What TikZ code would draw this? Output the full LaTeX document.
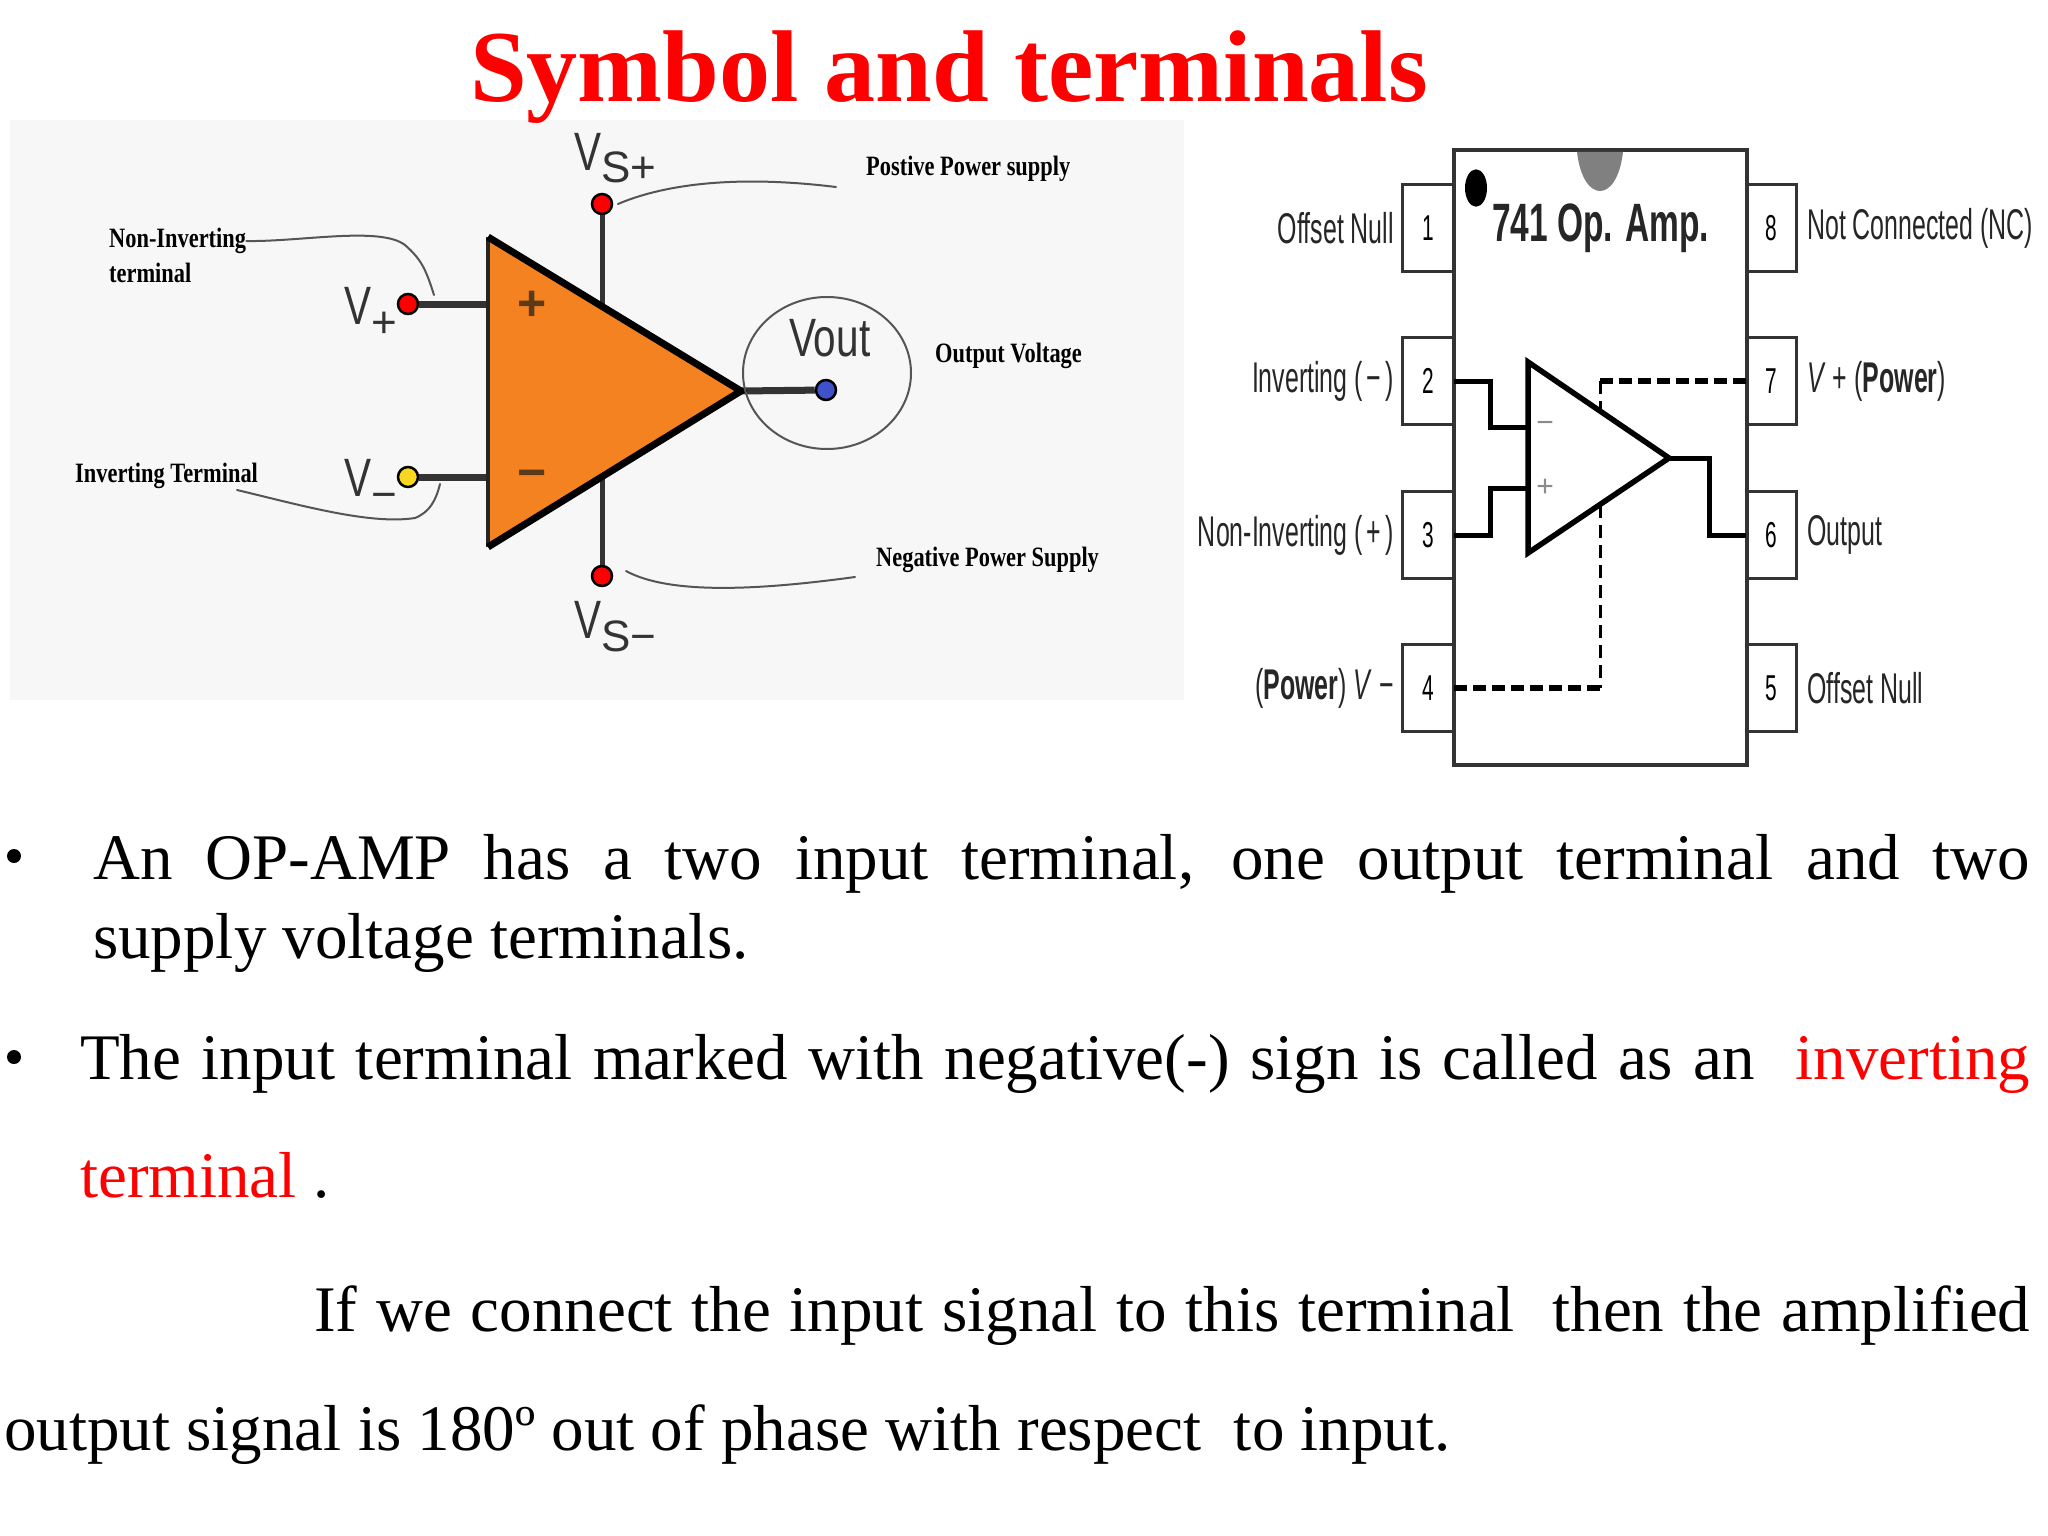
\documentclass[tikz,border=0pt]{standalone}
\usepackage{fontspec}
\usepackage{xcolor}
\usetikzlibrary{calc}
\setmainfont{Liberation Serif}
\setsansfont{Liberation Sans}
\newfontfamily\slimfont[FakeStretch=0.75]{Liberation Sans}
\newfontfamily\pinfont[FakeStretch=0.58]{Liberation Sans}
\newfontfamily\namefont[FakeStretch=0.62]{Liberation Sans}
\newfontfamily\tinyfont[FakeStretch=0.8]{Liberation Serif}
\definecolor{panel}{HTML}{F7F7F8}
\definecolor{amp}{HTML}{F58220}
\definecolor{wirec}{HTML}{333333}
\definecolor{signc}{HTML}{5A3A18}
\definecolor{notchc}{HTML}{808080}
\definecolor{leadc}{HTML}{555555}
\definecolor{bluedot}{HTML}{3F51C8}
\definecolor{yellowdot}{HTML}{F7D81E}
\newcommand{\vsub}[1]{\raisebox{-13pt}{\sffamily\fontsize{44}{44}\selectfont #1}}
\tikzset{
  titletext/.style={anchor=base west, inner sep=0pt, text=red, font=\fontsize{102}{110}\selectfont\bfseries},
  body/.style={anchor=base west, inner sep=0pt, font=\fontsize{65}{78}\selectfont},
  bullet/.style={circle, fill=black, inner sep=0pt, minimum size=14pt},
  dot/.style={circle, draw=black, line width=2.5pt, inner sep=0pt, minimum size=20pt},
  lead/.style={draw=leadc, line width=2pt, line cap=round},
  stub/.style={draw=wirec, line width=7pt},
  rail/.style={draw=wirec, line width=5pt},
  vlab/.style={anchor=base west, inner sep=0pt, text=wirec, font=\slimfont\fontsize{54}{54}\selectfont},
  sign/.style={inner sep=0pt, text=signc, font=\sffamily\bfseries\fontsize{50}{50}\selectfont},
  note/.style={inner sep=0pt, text=black, font=\tinyfont\fontsize{28}{30}\selectfont\bfseries},
  pinbox/.style={draw=wirec, line width=3pt, minimum width=51pt, minimum height=87pt, inner sep=0pt, outer sep=0pt, fill=white, font=\pinfont\fontsize{36}{36}\selectfont},
  pinlab/.style={inner sep=0pt, text=black!85, font=\pinfont\fontsize{43}{43}\selectfont},
  wire/.style={draw=black, line width=5pt, line join=miter},
  dashh/.style={draw=black, line width=5.5pt, dash pattern=on 13pt off 6pt},
  dashv/.style={draw=black, line width=3pt, dash pattern=on 13pt off 7pt},
}
\begin{document}
\begin{tikzpicture}[x=1pt,y=-1pt]
  \useasboundingbox (0,0) rectangle (2048,1536);
  % left panel
  \fill[panel] (10,120) rectangle (1184,700);
  \node[titletext] (title) at (470,102) {Symbol and terminals};

  % op-amp symbol
  \coordinate (triTop) at (488,237);
  \coordinate (triBot) at (488,547);
  \coordinate (triTip) at (741,391);
  \node[dot,fill=red] (vsp) at (602,204) {};
  \node[dot,fill=red] (vsm) at (602,576) {};
  \node[dot,fill=red] (vp) at (408,304) {};
  \node[dot,fill=yellowdot] (vm) at (408,477) {};
  \node[dot,fill=bluedot] (vo) at (826,390) {};
  \draw[rail] (vsp) -- (602,320);
  \draw[rail] (vsm) -- (602,463);
  \draw[stub] (vp) -- (488,304);
  \draw[stub] (vm) -- (488,477);
  \draw[stub] (triTip) -- (vo);
  \fill[amp] (triTop) -- (triTip) -- (triBot) -- cycle;
  \draw[draw=black!85,line width=4pt] (triTop) -- (triBot);
  \draw[draw=black,line width=7pt] (triTop) -- (triTip) -- (triBot);
  \node[sign] (plus) at (532,306) {+};
  \node[sign] (minus) at (532,480) {\char"2212};
  \draw[line width=2pt,draw=leadc] (827,373) ellipse (84 and 76);

  \node[vlab] (lsp) at (574,170) {V\vsub{S+}};
  \node[vlab] (lsm) at (574,638) {V\vsub{S\char"2212}};
  \node[vlab] (lp) at (344,324) {V\vsub{+}};
  \node[vlab] (lm) at (344,496) {V\vsub{\char"2212}};
  \node[vlab] (lo) at (789,356) {Vout};

  % notes
  \node[note,anchor=west] (npos) at (866,169) {Postive Power supply};
  \node[note,anchor=west] (nni1) at (109,241) {Non-Inverting};
  \node[note,anchor=west] (nni2) at (109,273) {terminal};
  \node[note,anchor=west] (ninv) at (75,476) {Inverting Terminal};
  \node[note,anchor=west] (nout) at (935,356) {Output Voltage};
  \node[note,anchor=west] (nneg) at (876,560) {Negative Power Supply};
  \coordinate (posA) at (618,204);
  \coordinate (posB) at (836,187);
  \coordinate (niB) at (434,295);
  \coordinate (invA) at (237,490);
  \coordinate (invB) at (440,484);
  \coordinate (negA) at (626,571);
  \coordinate (negB) at (855,577);
  \draw[lead] (posA) .. controls (660,186) and (730,174) .. (posB);
  \draw[lead] (nni1.east) .. controls (300,242) and (380,226) .. (405,245) .. controls (422,260) and (426,270) .. (niB);
  \draw[lead] (invA) .. controls (300,505) and (370,525) .. (415,518) .. controls (430,512) and (436,500) .. (invB);
  \draw[lead] (negA) .. controls (670,595) and (760,590) .. (negB);

  % 741 package
  \node[pinbox] (pin1) at (1428,228) {1};
  \node[pinbox] (pin2) at (1428,381) {2};
  \node[pinbox] (pin3) at (1428,535) {3};
  \node[pinbox] (pin4) at (1428,688) {4};
  \node[pinbox] (pin8) at (1771,228) {8};
  \node[pinbox] (pin7) at (1771,381) {7};
  \node[pinbox] (pin6) at (1771,535) {6};
  \node[pinbox] (pin5) at (1771,688) {5};
  \draw[draw=wirec,line width=3.5pt,fill=white] (1454,150) rectangle (1747,765);
  \fill[notchc] (1577,152) .. controls (1580,178) and (1590,191) .. (1600,191) .. controls (1610,191) and (1620,178) .. (1623,152) -- cycle;
  \node[circle,fill=black,inner sep=0pt,minimum width=22pt,minimum height=22pt,yscale=1.7] (mark) at (1476,188) {};
  \node[anchor=base west,inner sep=0pt,text=black!85,font=\namefont\fontsize{54}{54}\selectfont\bfseries] (name) at (1492,241) {741 Op. Amp.};

  \coordinate (opTop) at (1528,362);
  \coordinate (opBot) at (1528,553);
  \coordinate (opTip) at (1669,458);
  \coordinate (opM) at (1528,427);
  \coordinate (opP) at (1528,488);
  \coordinate (tapTop) at (1600,381);
  \coordinate (tapBot) at (1600,688);
  \draw[draw=black,line width=5.5pt,line join=miter] (opTop) -- (opTip) -- (opBot) -- cycle;
  \node[inner sep=0pt,text=black!45,font=\sffamily\fontsize{30}{30}\selectfont] (opminus) at (1545,427) {\char"2212};
  \node[inner sep=0pt,text=black!45,font=\sffamily\fontsize{30}{30}\selectfont] (opplus) at (1545,488) {+};
  \draw[wire] (pin2.east) -- ++(37,0) |- (opM);
  \draw[wire] (pin3.east) -- ++(37,0) |- (opP);
  \draw[wire] (opTip) -- ++(40,0) |- (pin6.west);
  \draw[dashh] (pin7.west) -- (tapTop);
  \draw[dashv] (tapTop) -- (1600,411);
  \draw[dashv] (1600,505) -- (tapBot);
  \draw[dashh] (tapBot) -- (pin4.east);

  \node[pinlab,anchor=east] (l1) at (1394,228) {Offset Null};
  \node[pinlab,anchor=east] (l2) at (1394,381) {Inverting (\hspace{4pt}\char"2212\hspace{4pt})};
  \node[pinlab,anchor=east] (l3) at (1394,535) {Non-Inverting (\hspace{4pt}+\hspace{4pt})};
  \node[pinlab,anchor=east] (l4) at (1394,688) {(\textbf{Power}) \textit{V}\,\char"2212};
  \node[pinlab,anchor=west] (l8) at (1807,228) {Not Connected (NC)};
  \node[pinlab,anchor=west] (l7) at (1807,381) {\textit{V}\,+ (\textbf{Power})};
  \node[pinlab,anchor=west] (l6) at (1807,535) {Output};
  \node[pinlab,anchor=west] (l5) at (1807,688) {Offset Null};

  % text
  \node[bullet] (b1) at (14,856) {};
  \node[body] (line1) at (93,879) {\makebox[1937pt][s]{An OP-AMP has a two input terminal, one output terminal and two}};
  \node[body] (line2) at (93,958) {supply voltage terminals.};
  \node[bullet] (b2) at (14,1057) {};
  \node[body] (line3) at (80,1079) {\makebox[1950pt][s]{The input terminal marked with negative(-) sign is called as an\ \ \textcolor{red}{inverting}}};
  \node[body] (line4) at (80,1197) {\textcolor{red}{terminal} .};
  \node[body] (line5) at (314,1331) {\makebox[1716pt][s]{If we connect the input signal to this terminal\ \ then the amplified}};
  \node[body] (line6) at (4,1450) {output signal is 180º out of phase with respect\ \ to input.};
\end{tikzpicture}
\end{document}
